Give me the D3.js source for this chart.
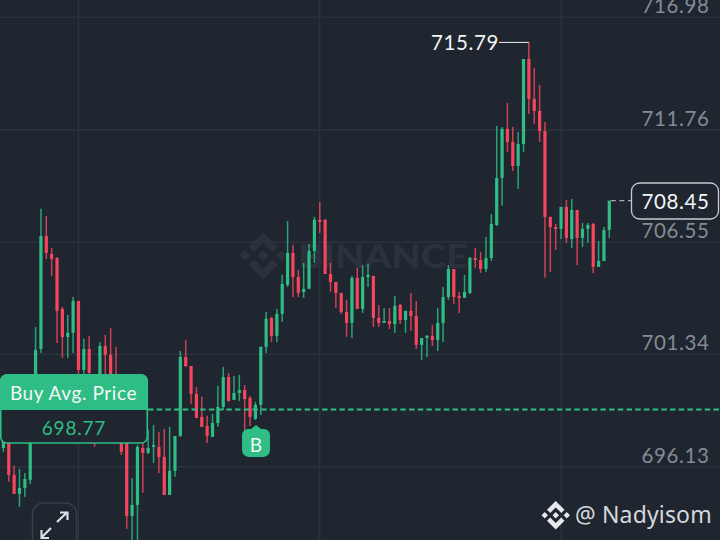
<!DOCTYPE html>
<html><head><meta charset="utf-8">
<script src="https://cdn.jsdelivr.net/npm/d3@7/dist/d3.min.js"></script>
<style>html,body{margin:0;padding:0;background:#1f2630;overflow:hidden}svg{display:block}text{font-family:"Lato",sans-serif}</style>
</head><body><svg id="c" width="720" height="540"></svg>
<script>
const opens=[696.98,697.82,695.73,694.85,695.13,695.50,698.28,701.57,706.81,705.98,705.79,703.43,702.13,702.32,703.80,700.60,701.57,699.90,698.28,701.71,701.30,699.90,698.28,697.35,693.83,694.34,696.98,696.75,697.03,697.03,696.56,694.80,695.92,697.54,701.20,700.78,699.49,698.42,698.00,697.49,698.14,698.88,700.27,699.21,699.53,699.67,699.30,698.33,698.98,701.67,703.01,702.18,703.20,704.54,706.03,704.91,704.22,704.36,706.12,707.56,707.56,705.05,704.68,704.17,703.29,702.78,704.87,703.43,704.91,704.96,703.01,702.78,702.87,702.73,703.61,702.92,703.34,703.10,701.76,702.08,702.18,701.99,702.78,703.98,705.28,704.03,703.94,704.17,705.79,705.70,705.28,705.79,707.32,709.50,711.78,711.17,710.06,711.08,715.02,713.17,712.61,711.68,707.70,707.23,707.14,708.16,706.67,708.02,706.72,707.14,707.37,705.38,705.65,707.09];
const highs=[698.51,698.05,696.15,696.01,695.82,698.51,702.59,708.07,707.74,706.26,705.84,703.52,703.15,703.98,703.80,702.04,702.18,700.14,701.90,702.22,702.55,701.67,698.51,697.82,695.59,697.12,697.82,697.82,698.05,697.72,697.86,697.96,697.54,701.48,701.99,700.78,699.81,699.35,698.47,698.56,699.86,700.74,700.46,700.32,700.37,699.90,699.39,699.12,701.67,703.29,703.06,703.43,705.01,707.51,706.40,705.24,705.56,706.44,707.70,708.39,707.60,705.56,704.68,704.17,703.85,704.96,705.33,705.47,705.52,704.96,703.61,703.47,703.47,704.03,703.66,703.34,704.17,703.80,702.08,702.22,702.69,703.47,704.45,705.47,705.28,704.22,705.01,705.84,706.26,706.07,706.77,707.83,711.92,711.87,712.98,711.87,711.64,715.02,715.79,714.61,713.82,712.10,707.70,707.37,708.16,708.48,708.53,708.02,707.42,707.42,707.42,706.58,707.23,708.45];
const lows=[696.80,695.41,694.85,694.25,694.71,695.31,698.05,701.39,705.75,704.96,701.85,701.16,701.16,701.39,700.37,700.23,700.14,697.03,698.05,699.90,699.21,698.05,696.66,693.23,691.79,691.79,694.90,696.70,696.29,695.82,694.80,694.80,695.64,697.49,700.74,699.02,698.37,697.96,697.21,697.49,697.96,698.74,699.12,699.21,699.16,697.82,698.00,698.28,698.51,701.39,701.90,701.90,702.83,704.45,703.98,703.98,703.94,704.36,705.56,706.95,705.05,704.22,703.47,703.20,702.13,702.08,703.43,703.24,704.45,702.59,702.59,702.78,702.50,702.32,702.73,702.32,702.41,701.57,701.06,701.20,701.71,701.48,701.90,703.85,703.66,703.24,703.94,704.12,705.33,705.10,705.14,705.65,707.28,708.21,710.71,709.83,708.99,710.71,712.47,712.01,711.17,704.87,705.14,706.17,706.67,706.49,706.26,705.47,706.30,706.49,705.10,705.38,705.65,706.72];
const closes=[698.05,695.73,694.85,695.13,695.54,698.28,701.53,706.81,706.03,705.75,703.34,702.13,702.32,703.80,700.60,701.57,700.46,697.82,701.71,701.30,699.90,698.28,696.80,693.83,694.34,697.03,696.75,696.98,697.12,696.56,694.80,695.92,697.54,701.20,700.78,699.49,698.37,697.96,697.54,698.14,698.88,700.27,699.16,699.53,699.67,699.25,698.42,698.98,701.67,702.97,702.18,703.20,704.59,706.03,704.91,704.17,704.36,706.12,707.56,707.46,705.05,704.68,704.17,703.29,702.78,704.87,703.43,704.91,705.01,703.01,702.78,702.87,702.73,703.57,702.92,703.34,703.10,701.76,702.08,702.18,701.99,702.78,703.98,705.28,703.98,703.94,704.22,705.79,705.70,705.28,705.79,707.37,709.50,711.78,711.17,710.06,711.08,715.02,713.17,712.61,711.68,707.70,707.23,707.14,708.16,706.72,708.02,706.72,707.14,707.32,705.38,705.65,707.09,708.45];
const priceTicks=[716.98,711.76,706.55,701.34,696.13];
const timeGridIndex=[14,59,104];
const lastPrice=708.45, maxPrice=715.79, maxIndex=98, buyAvg=698.77, buyIndex=47;
const buyTitle="Buy Avg. Price", buyMark="B", brand="BINANCE", author="@ Nadyisom";

const green="#2ebd85", red="#f6465d", bg="#1f2630", grid="#2f3540", axisText="#858b94";
const logo=["M38.73 53.2l24.59-24.58 24.6 24.6 14.3-14.31L63.32 0l-38.9 38.9 14.31 14.3z","M0 63.31l14.3-14.31 14.31 14.31-14.31 14.3z","M38.73 73.41l24.59 24.59 24.6-24.6 14.31 14.29-38.9 38.91-38.91-38.88-.02-.02z","M98 63.31l14.3-14.31 14.31 14.3-14.31 14.32z","M77.83 63.3L63.32 48.78 52.59 59.51l-1.24 1.23-2.54 2.54 14.51 14.5 14.51-14.47z"];
const svg=d3.select("#c");
const x=d3.scaleLinear().domain([0,113]).range([3.4,609.3]);
const y=d3.scaleLinear().domain([696.13,711.76]).range([466.3,129.3]);
svg.append("rect").attr("width",720).attr("height",540).attr("fill",bg);

// grid + axis
const gy=svg.append("g").call(d3.axisRight(y).tickValues(priceTicks).tickFormat(d3.format(".2f")).tickSize(720).tickPadding(0));
gy.select(".domain").remove();
gy.selectAll("line").attr("stroke",grid).attr("stroke-width",1.2);
gy.selectAll("text").attr("x",709.5).attr("dy",-9.3).attr("dominant-baseline","middle").attr("text-anchor","end").attr("fill",axisText).attr("font-size",20.5).attr("font-family","Lato").attr("letter-spacing",0.6);
svg.append("g").selectAll("line").data(timeGridIndex).join("line")
 .attr("x1",d=>x(d)).attr("x2",d=>x(d)).attr("y1",0).attr("y2",540).attr("stroke",grid).attr("stroke-width",1.2);

// watermark
svg.append("g").attr("transform","translate(239.5,232) scale(0.375)").selectAll("path").data(logo).join("path").attr("d",d=>d).attr("fill","#2c323d");
svg.append("text").text(brand).attr("x",298).attr("y",268).attr("font-size",33).attr("font-weight",900).attr("textLength",170).attr("lengthAdjust","spacingAndGlyphs").attr("fill","#2c323d");

// candles
const idx=d3.range(opens.length);
const cg=svg.append("g");
const col=i=>closes[i]>=opens[i]?green:red;
cg.selectAll("line").data(idx).join("line")
 .attr("x1",i=>x(i)).attr("x2",i=>x(i)).attr("y1",i=>y(highs[i])).attr("y2",i=>y(lows[i]))
 .attr("stroke",col).attr("stroke-width",1.5).attr("stroke-opacity",0.82);
cg.selectAll("rect").data(idx).join("rect")
 .attr("x",i=>x(i)-1.6).attr("width",3.2)
 .attr("y",i=>y(Math.max(opens[i],closes[i])))
 .attr("height",i=>Math.max(1.2,Math.abs(y(opens[i])-y(closes[i]))))
 .attr("fill",col);

// buy average line
svg.append("line").attr("x1",148).attr("x2",720).attr("y1",y(buyAvg)).attr("y2",y(buyAvg)).attr("stroke",green).attr("stroke-width",2).attr("stroke-dasharray","5.5 3.2");

// buy label
const bl=svg.append("g");
bl.append("rect").attr("x",0.75).attr("y",375).attr("width",146.5).attr("height",68).attr("rx",6).attr("fill",bg).attr("stroke",green).attr("stroke-width",1.6);
bl.append("path").attr("d","M0 381a7 7 0 0 1 7-7H141a7 7 0 0 1 7 7V410H0Z").attr("fill",green);
bl.append("text").text(buyTitle).attr("x",73.5).attr("y",400).attr("text-anchor","middle").attr("fill","#f4f6f5").attr("font-size",19).attr("letter-spacing",0.6);
bl.append("text").text(d3.format(".2f")(buyAvg)).attr("x",74).attr("y",434.5).attr("text-anchor","middle").attr("fill",green).attr("font-size",19).attr("letter-spacing",0.8);

// buy marker
const bx=x(buyIndex)+0.6, by=y(lows[buyIndex]);
const bm=svg.append("g").attr("transform",`translate(${bx},${by})`);
bm.append("path").attr("d","M0 5L5 9H8a6 6 0 0 1 6 6V30a7 7 0 0 1-7 7H-7a7 7 0 0 1-7-7V15a6 6 0 0 1 6-6H-5Z").attr("fill",green);
bm.append("text").text(buyMark).attr("x",0).attr("y",32).attr("text-anchor","middle").attr("fill","#f4f6f5").attr("font-size",19);

// high marker
const hy=y(maxPrice);
svg.append("line").attr("x1",499).attr("x2",x(maxIndex)).attr("y1",hy).attr("y2",hy).attr("stroke","#eef0f2").attr("stroke-width",1);
svg.append("text").text(d3.format(".2f")(maxPrice)).attr("x",499).attr("y",hy+8).attr("text-anchor","end").attr("fill","#f2f3f5").attr("font-size",20.5).attr("letter-spacing",0.6);

// last price
const ly=y(lastPrice);
svg.append("line").attr("x1",x(113)+1.5).attr("x2",632).attr("y1",ly).attr("y2",ly).attr("stroke","#a6abb2").attr("stroke-width",1.3).attr("stroke-dasharray","5 3.6");
svg.append("rect").attr("x",631.5).attr("y",183).attr("width",87).attr("height",36).attr("rx",8).attr("fill",bg).attr("stroke","#c8ccd1").attr("stroke-width",1.3);
svg.append("text").text(d3.format(".2f")(lastPrice)).attr("x",709.5).attr("y",ly+8).attr("text-anchor","end").attr("fill","#f4f5f6").attr("font-size",20.5).attr("letter-spacing",0.6);

// expand button
svg.append("rect").attr("x",32.5).attr("y",503).attr("width",44).attr("height",60).attr("rx",11).attr("fill",bg).attr("stroke","#383e49").attr("stroke-width",1.6);
const ar=svg.append("g").attr("stroke","#dcdfe3").attr("stroke-width",2.2).attr("fill","none");
ar.append("path").attr("d","M57 522L67 512.5M60 512.5H67.5V520");
ar.append("path").attr("d","M51 528L41.5 537.5M41.5 530V538H49");

// author
svg.append("g").attr("transform","translate(541.5,501) scale(0.225)").selectAll("path").data(logo).join("path").attr("d",d=>d).attr("fill","#e6e8ea");
svg.append("text").text(author).attr("x",575).attr("y",523).attr("fill","#d5d8dc").attr("font-size",23).attr("letter-spacing",0.15).attr("style","font-family:'Noto Sans'");
</script></body></html>
